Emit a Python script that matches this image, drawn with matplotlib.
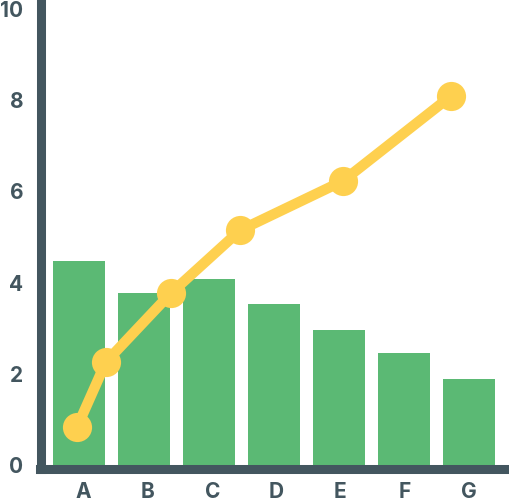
import matplotlib
matplotlib.use('Agg')
import matplotlib.pyplot as plt

categories = ['A', 'B', 'C', 'D', 'E', 'F', 'G']
bar_values = [4.47, 3.77, 4.08, 3.54, 2.96, 2.45, 1.88]
# the line does not sit on the bar centres, x is in category units
line_x = [-0.03, 0.415, 1.415, 2.48, 4.06, 5.72]
line_y = [0.83, 2.26, 3.77, 5.15, 6.23, 8.09]
label_x = [0.06, 0.06, 0.05, 0.03, 0.02, 0.01, 0.0]
y_ticks = [0, 2, 4, 6, 8, 10]

dark = '#43565f'
green = '#5bb974'
yellow = '#fed04f'

plt.rcParams['font.family'] = ['Inter', 'DejaVu Sans']

fig = plt.figure(figsize=(5.09, 5.0), dpi=100)
ax = fig.add_axes([40.5 / 509, 1 - 468.5 / 500, 468.5 / 509, 468.5 / 500])

x = list(range(len(categories)))
ax.bar(x, bar_values, width=0.8, color=green, zorder=2)
ax.plot(line_x, line_y, color=yellow, lw=7.5, marker='o', ms=21, mew=0, zorder=3, clip_on=False)

ax.set_xlim(-0.592, 6.615)
ax.set_ylim(-0.077, 10.2)
ax.set_xticks([i + d for i, d in zip(x, label_x)])
ax.set_xticklabels(categories)
ax.set_yticks(y_ticks)
ax.tick_params(length=0, labelsize=15, labelcolor=dark)
ax.tick_params(axis='x', pad=10)
ax.tick_params(axis='y', pad=12.5)
for label in ax.get_xticklabels() + ax.get_yticklabels():
    label.set_fontweight('bold')

for side in ['top', 'right']:
    ax.spines[side].set_visible(False)
for side in ['left', 'bottom']:
    ax.spines[side].set_color(dark)
    ax.spines[side].set_linewidth(6.5)

fig.savefig('out.png', dpi=100)
